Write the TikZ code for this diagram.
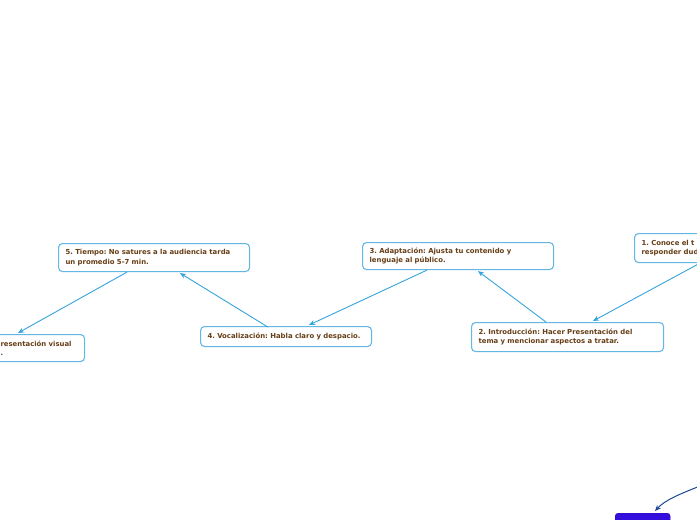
\documentclass[tikz,border=0pt]{standalone}
\usepackage{fontspec}
\newfontfamily\boxfont{DejaVu Sans}
\frenchspacing
\usetikzlibrary{arrows.meta,calc}
\definecolor{boxblue}{RGB}{98,183,228}
\definecolor{arrowblue}{RGB}{52,163,219}
\definecolor{txtbrown}{RGB}{102,62,22}
\definecolor{darkblue}{RGB}{28,72,150}
\definecolor{fillpurple}{RGB}{52,14,220}
\tikzset{
  mapbox/.style={draw=boxblue, fill=white, rounded corners=4pt, line width=1.1pt,
    anchor=north west, align=left, inner xsep=7pt, inner ysep=0pt,
    font=\boxfont\bfseries\fontsize{6.9}{9.6}\selectfont, text=txtbrown},
  link/.style={draw=arrowblue, line width=0.9pt, -{Stealth[length=6pt,width=5pt]}},
  darklink/.style={draw=darkblue, line width=1pt, -{Stealth[length=6pt,width=5pt]}},
}
\begin{document}
\begin{tikzpicture}[x=1pt,y=-1pt]
\useasboundingbox (0,0) rectangle (697,520);
\clip (0,0) rectangle (697,520);
\node[mapbox, text width=177pt, minimum height=28pt] (n5) at (58,243)
  {5. Tiempo: No satures a la audiencia tarda\\un promedio 5-7 min.};
\node[mapbox, text width=157pt, minimum height=20pt] (n4) at (200,326)
  {4. Vocalización: Habla claro y despacio.};
\node[mapbox, text width=177pt, minimum height=27pt] (n3) at (362,242)
  {3. Adaptación: Ajusta tu contenido y\\lenguaje al público.};
\node[mapbox, text width=178pt, minimum height=29pt] (n2) at (471,322)
  {2. Introducción: Hacer Presentación del\\tema y mencionar aspectos a tratar.};
\node[mapbox, text width=100pt, minimum height=29pt] (n1) at (634,233)
  {1. Conoce el t\\responder dud};
\node[mapbox, text width=75pt, minimum height=27pt, inner xsep=9pt] (n6) at (-9,334)
  {resentación visual\\.};
\node[draw=fillpurple!80!black, fill=fillpurple, rounded corners=3pt, anchor=north west,
  minimum width=55pt, minimum height=20pt, inner sep=0pt] (nb) at (615,513) {};
\coordinate (c1) at (700,486);
\draw[link] ($(n5.south west)+(69,0)$) -- ($(n6.north west)+(27,-1)$);
\draw[link] ($(n4.south west)+(68,-20)$) -- ($(n5.south west)+(122,1)$);
\draw[link] ($(n3.south west)+(65,0)$) -- ($(n4.north west)+(109,-1)$);
\draw[link] ($(n2.north west)+(75,0)$) -- ($(n3.south west)+(116,1)$);
\draw[link] ($(n1.south west)+(66,0)$) -- ($(n2.north west)+(122,-1)$);
\draw[darklink] (c1) .. controls (680,494) and (665,500) .. ($(nb.north west)+(40,-2)$);
\end{tikzpicture}
\end{document}
